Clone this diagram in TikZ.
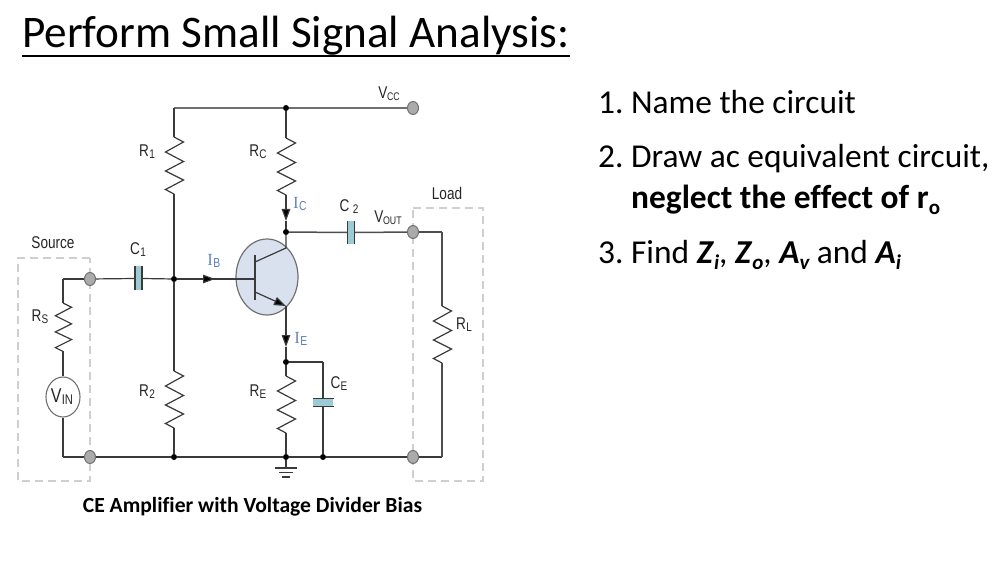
\documentclass[tikz,border=0pt]{standalone}
\usepackage{fontspec}
\setmainfont{Carlito}[Ligatures=NoCommon]
\newfontfamily\lblfont[FakeStretch=0.8]{Liberation Sans}
\newfontfamily\curfont[FakeStretch=0.9]{Liberation Serif}
\usetikzlibrary{shapes.geometric,arrows.meta}
\definecolor{wirec}{HTML}{3A3A3A}
\definecolor{railc}{HTML}{707070}
\definecolor{dashc}{HTML}{CFCFCF}
\definecolor{termc}{HTML}{ABABAB}
\definecolor{bodyc}{HTML}{D9E1EE}
\definecolor{capc}{HTML}{9CCBD6}
\definecolor{curc}{HTML}{5B7DBE}
\newcommand{\lb}[2]{{\lblfont\fontsize{17}{17}\selectfont #1\kern0.3pt\raisebox{-2pt}{\fontsize{12.5}{12.5}\selectfont #2}}}
\newcommand{\lbn}[2]{{\lblfont\fontsize{17}{17}\selectfont #1\kern-0.3pt\raisebox{-2pt}{\fontsize{11}{11}\selectfont #2}}}
\newcommand{\lbv}[2]{{\lblfont\fontsize{20}{20}\selectfont #1\kern0.3pt\raisebox{-2pt}{\fontsize{14}{14}\selectfont #2}}}
\newcommand{\cu}[1]{{\color{curc}\curfont\fontsize{17}{17}\selectfont I\kern0.8pt\raisebox{-2pt}{\lblfont\fontsize{13}{13}\selectfont #1}}}
\newcommand{\sbi}[1]{\raisebox{-6pt}{\fontsize{21}{21}\selectfont\bfseries\itshape #1}}
\newcommand{\numgap}{\kern0pt\ }
\tikzset{
  x=1pt,y=-1pt,
  wire/.style={draw=wirec,line width=1.2pt},
  rail/.style={draw=railc,line width=1.9pt},
  gwire/.style={draw=railc!70!black,line width=1.5pt},
  box/.style={draw=dashc,line width=1.4pt,dash pattern=on 8pt off 5pt},
  dotn/.style={circle,fill=black,inner sep=0pt,minimum size=6pt},
  term/.style={ellipse,draw=railc,line width=1pt,fill=termc,inner sep=0pt,minimum width=11pt,minimum height=13pt},
  capn/.style={rectangle,fill=capc,inner sep=0pt,outer sep=0pt},
  plate/.style={draw=wirec,line width=1.8pt},
  tip/.style={-{Triangle[length=12pt,width=8.5pt,fill=black]},draw=wirec,line width=1.2pt},
  lab/.style={inner sep=0pt,text=black!85},
  txt/.style={anchor=base west,inner sep=0pt,font=\fontsize{33.4}{33.4}\selectfont},
  resistor/.pic={
    \draw[wire,line join=miter] (0,0) coordinate (-t) -- (9.5,5) -- (-8.5,15) -- (9.5,24.5) -- (-8.5,34) -- (9.5,43) -- (-8.5,52.5) -- (0,57) coordinate (-b);
  }
}
\begin{document}
\begin{tikzpicture}
\useasboundingbox (0,0) rectangle (1002,564);
% title
\node[anchor=base west,inner sep=0pt,font=\fontsize{45.2}{45.2}\selectfont] (title) at (22,48) {Perform Small Signal Analysis:};
\draw[black,line width=2pt] (title.west |- 0,56) coordinate (ul) -- (title.east |- ul);
% dashed boxes
\coordinate (sa) at (90,258); \coordinate (sb) at (18,481);
\draw[box] (sa) -- (sa -| sb) -- (sb) -- (sb -| sa) -- cycle;
\coordinate (la) at (413,208); \coordinate (lb) at (483,481);
\draw[box] (la) -- (la -| lb) -- (lb) -- (lb -| la) -- cycle;
% transistor
\node[ellipse,draw=railc,line width=1.2pt,fill=bodyc,minimum width=62pt,minimum height=76pt,inner sep=0pt] (Q) at (267,277) {};
% junctions and terminals
\node[term] (tin) at (90,279) {};
\node[term] (tgnd) at (90,457) {};
\node[term] (tcc) at (413,108) {};
\node[term] (tout) at (413,232) {};
\node[term] (tlo) at (413,457) {};
\node[dotn] (jtop) at (286,108) {};
\node[dotn] (jbase) at (174,279) {};
\node[dotn] (jb2) at (174,457) {};
\node[dotn] (jcol) at (286,232) {};
\node[dotn] (jem) at (286,362) {};
\node[dotn] (jb3) at (286,457) {};
\node[dotn] (jb4) at (323,457) {};
\coordinate (ctl) at (174,108);
\coordinate (cin) at (63,279);
\coordinate (cbl) at (63,457);
\coordinate (crt) at (442,232);
\coordinate (crb) at (442,457);
\coordinate (cer) at (323,362);
% source
\node[ellipse,draw=railc,line width=1.1pt,fill=white,minimum width=34pt,minimum height=40pt,inner sep=0pt] (vin) at (63,397) {};
% resistors
\pic (R1) at (174,137) {resistor};
\pic (Rc) at (286,138) {resistor};
\pic (R2) at (174,371) {resistor};
\pic (Re) at (286,376) {resistor};
\pic (Rl) at (442,306) {resistor};
\pic[yscale=0.85,xscale=0.9] (Rs) at (63,303) {resistor};
% capacitors
\node[capn,minimum width=7pt,minimum height=24pt] (C1) at (138.5,278.5) {};
\node[capn,minimum width=7pt,minimum height=23pt] (C2) at (351,232.5) {};
\node[capn,minimum width=20pt,minimum height=8pt] (Ce) at (323,402.5) {};
% wires
\draw[rail] (ctl) -- (jtop);
\draw[rail] (jtop) -- (tcc);
\draw[wire] (ctl) -- (R1-t);
\draw[wire] (R1-b) -- (jbase);
\draw[wire] (jbase) -- (R2-t);
\draw[wire] (R2-b) -- (jb2);
\draw[wire] (jtop) -- (Rc-t);
\draw[wire] (cin) -- (tin);
\draw[wire] (tin) -- (C1.west);
\draw[wire] (C1.east) -- (jbase);
\draw[wire] (cin) -- (Rs-t);
\draw[wire] (Rs-b) -- (vin);
\draw[wire] (vin) -- (cbl);
\draw[wire] (cbl) -- (tgnd);
\draw[wire] (tgnd) -- (jb2);
\draw[wire] (jb2) -- (jb3);
\draw[wire] (jb3) -- (jb4);
\draw[wire] (jb4) -- (tlo);
\draw[wire] (tlo) -- (crb);
\draw[gwire] (jcol) -- (C2.west);
\draw[gwire] (C2.east) -- (tout);
\draw[gwire] (tout) -- (crt);
\draw[gwire] (crt) -- (Rl-t);
\draw[gwire] (Rl-b) -- (crb);
\draw[wire] (jem) -- (cer);
\draw[wire] (cer) -- (Ce.north);
\draw[wire] (Ce.south) -- (jb4);
\draw[wire] (jem) -- (Re-t);
\draw[wire] (Re-b) -- (jb3);
% plates
\draw[plate] (C1.north west) -- (C1.south west);
\draw[plate] (C1.north east) -- (C1.south east);
\draw[plate] (C2.north west) -- (C2.south west);
\draw[plate] (C2.north east) -- (C2.south east);
\draw[plate] ([xshift=-0.5pt]Ce.north west) -- ([xshift=0.5pt]Ce.north east);
\draw[plate] ([xshift=-0.5pt]Ce.south west) -- ([xshift=0.5pt]Ce.south east);
% transistor internals
\coordinate (bbar) at (255,279);
\coordinate (bt) at (255,255);
\coordinate (bb) at (255,300);
\coordinate (cs) at (255,262);
\coordinate (ce) at (286,248);
\coordinate (es) at (255,292);
\coordinate (ee) at (286,306);
\draw[wire] (jbase) -- (bbar);
\draw[draw=wirec,line width=1.7pt] (bt) -- (bb);
\draw[wire] (cs) -- (ce) -- (jcol);
\draw[tip] (es) -- (ee);
% current arrows
\coordinate (ibt) at (215,279);
\draw[tip] (jbase) -- (ibt);
\coordinate (ict) at (286,221);
\draw[tip] (Rc-b) -- (ict);
\draw[wire] (ict) -- (jcol);
\coordinate (iet) at (286,347);
\draw[tip] (ee) -- (iet);
\draw[wire] (iet) -- (jem);
% ground
\coordinate (g1) at (286,468);
\draw[wire] (jb3) -- (g1);
\draw[wire] ([shift={(-11,0)}]g1) -- ([shift={(11,0)}]g1);
\draw[wire] ([shift={(-7,4.5)}]g1) -- ([shift={(7,4.5)}]g1);
\draw[wire] ([shift={(-4,9)}]g1) -- ([shift={(4,9)}]g1);
% labels
\node[lab] (lR1) at (147,152) {\lb{R}{1}};
\node[lab] (lRc) at (258,152) {\lb{R}{C}};
\node[lab] (lR2) at (147,392) {\lb{R}{2}};
\node[lab] (lRe) at (258,392) {\lb{R}{E}};
\node[lab] (lRs) at (40,317) {\lb{R}{S}};
\node[lab] (lRl) at (464,325) {\lb{R}{L}};
\node[lab] (lC1) at (138,250) {\lb{C}{1}};
\node[lab] (lC2) at (349,207) {\lb{C\kern3pt}{2}};
\node[lab] (lCe) at (339,384) {\lb{C}{E}};
\node[lab] (lvcc) at (389,94) {\lbn{V}{CC}};
\node[lab] (lvout) at (388,218) {\lbn{V}{OUT}};
\node[lab] (lvin) at (62,397) {\lbv{V}{IN}};
\node[lab] (lsrc) at (53,243) {\lblfont\fontsize{17}{17}\selectfont Source};
\node[lab] (lload) at (447,193) {\lblfont\fontsize{17}{17}\selectfont Load};
\node[lab] (lIb) at (214,261) {\cu{B}};
\node[lab] (lIc) at (300,204) {\cu{C}};
\node[lab] (lIe) at (301,339) {\cu{E}};
\node[anchor=base,inner sep=0pt,font=\fontsize{21.6}{21.6}\selectfont\bfseries] (cap) at (252.5,512) {CE Amplifier with Voltage Divider Bias};
% list
\node[txt] (t1) at (598,114) {1.\numgap Name the circuit};
\node[txt] (t2) at (598,168) {2.\numgap Draw ac equivalent circuit,};
\node[txt] (t2b) at (631,209) {\textbf{neglect the effect of r\raisebox{-6pt}{\fontsize{21}{21}\selectfont o}}};
\node[txt] (t3) at (598,264) {3.\numgap Find \textbf{\textit{Z}}\sbi{i}, \textbf{\textit{Z}}\sbi{o}, \textbf{\textit{A}}\sbi{v} and \textbf{\textit{A}}\sbi{i}};
\end{tikzpicture}
\end{document}
